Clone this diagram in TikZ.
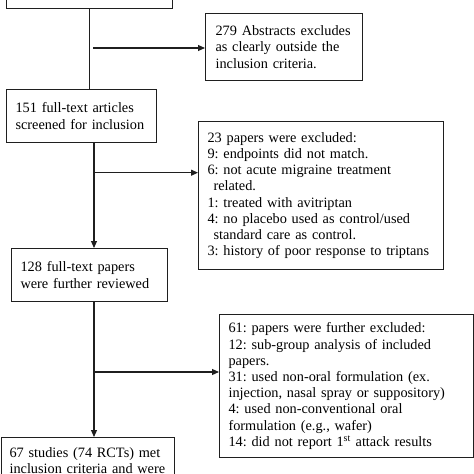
\documentclass[tikz,border=0pt]{standalone}
\usepackage{fontspec}
\setmainfont{Liberation Serif}
\frenchspacing
\usetikzlibrary{arrows.meta,calc}
\begin{document}
\begin{tikzpicture}[x=1pt,y=-1pt,
 box/.style={draw=black!88, line width=1.1pt, align=left, anchor=north west, inner ysep=0pt,
   font=\fontsize{14.3}{16.2}\selectfont},
 conn/.style={draw=black!88, line width=1.1pt},
 arr/.style={conn, -{Triangle[length=7pt,width=6pt]}}]
\useasboundingbox (0,0) rectangle (474,474);
\clip (0,0) rectangle (474,474);
\fill[white] (0,0) rectangle (474,474);
\node[box, anchor=south west, minimum width=166pt, minimum height=40pt] (top) at (6,9) {};
\node[box, minimum width=157pt, minimum height=67pt, inner xsep=10pt, text width=137pt] (b279) at (205,13)
 {279 Abstracts excludes\\as clearly outside the\\inclusion criteria.};
\node[box, minimum width=150pt, minimum height=53pt, inner xsep=9pt, text width=132pt] (b151) at (6,89)
 {151 full-text articles\\screened for inclusion};
\node[box, minimum width=245pt, minimum height=148pt, inner xsep=9pt, text width=227pt] (b23) at (198,121)
 {23 papers were excluded:\\9: endpoints did not match.\\6: not acute migraine treatment\\\hspace*{6pt}related.\\1: treated with avitriptan\\4: no placebo used as control/used\\\hspace*{6pt}standard care as control.\\3: history of poor response to triptans};
\node[box, minimum width=156pt, minimum height=53pt, inner xsep=9pt, text width=138pt] (b128) at (11,248)
 {128 full-text papers\\were further reviewed};
\node[box, minimum width=254pt, minimum height=143pt, inner xsep=9pt, text width=236pt] (b61) at (219,314)
 {61: papers were further excluded:\\12: sub-group analysis of included\\papers.\\31: used non-oral formulation (ex.\\injection, nasal spray or suppository)\\4: used non-conventional oral\\formulation (e.g., wafer)\\14: did not report 1\textsuperscript{st} attack results};
\node[box, minimum width=173pt, minimum height=46pt, inner xsep=8pt, text width=157pt] (b67) at (1,437)
 {67 studies (74 RCTs) met\\inclusion criteria and were};
% connectors
\draw[conn] (top.south) -- (top.south |- b151.north);
\coordinate (c1) at (93,48);
\draw[arr] (c1) -- (c1 -| b279.west);
\coordinate (s2) at ($(b151.south west)+(88,0)$);
\draw[arr] (s2) -- (s2 |- b128.north);
\coordinate (j2) at (94,172.7);
\draw[arr] (j2) -- (j2 -| b23.west);
\coordinate (s3) at ($(b128.south west)+(83,0)$);
\draw[arr] (s3) -- (s3 |- b67.north);
\coordinate (j3) at (94,372);
\draw[arr] (j3) -- (j3 -| b61.west);
\end{tikzpicture}
\end{document}
